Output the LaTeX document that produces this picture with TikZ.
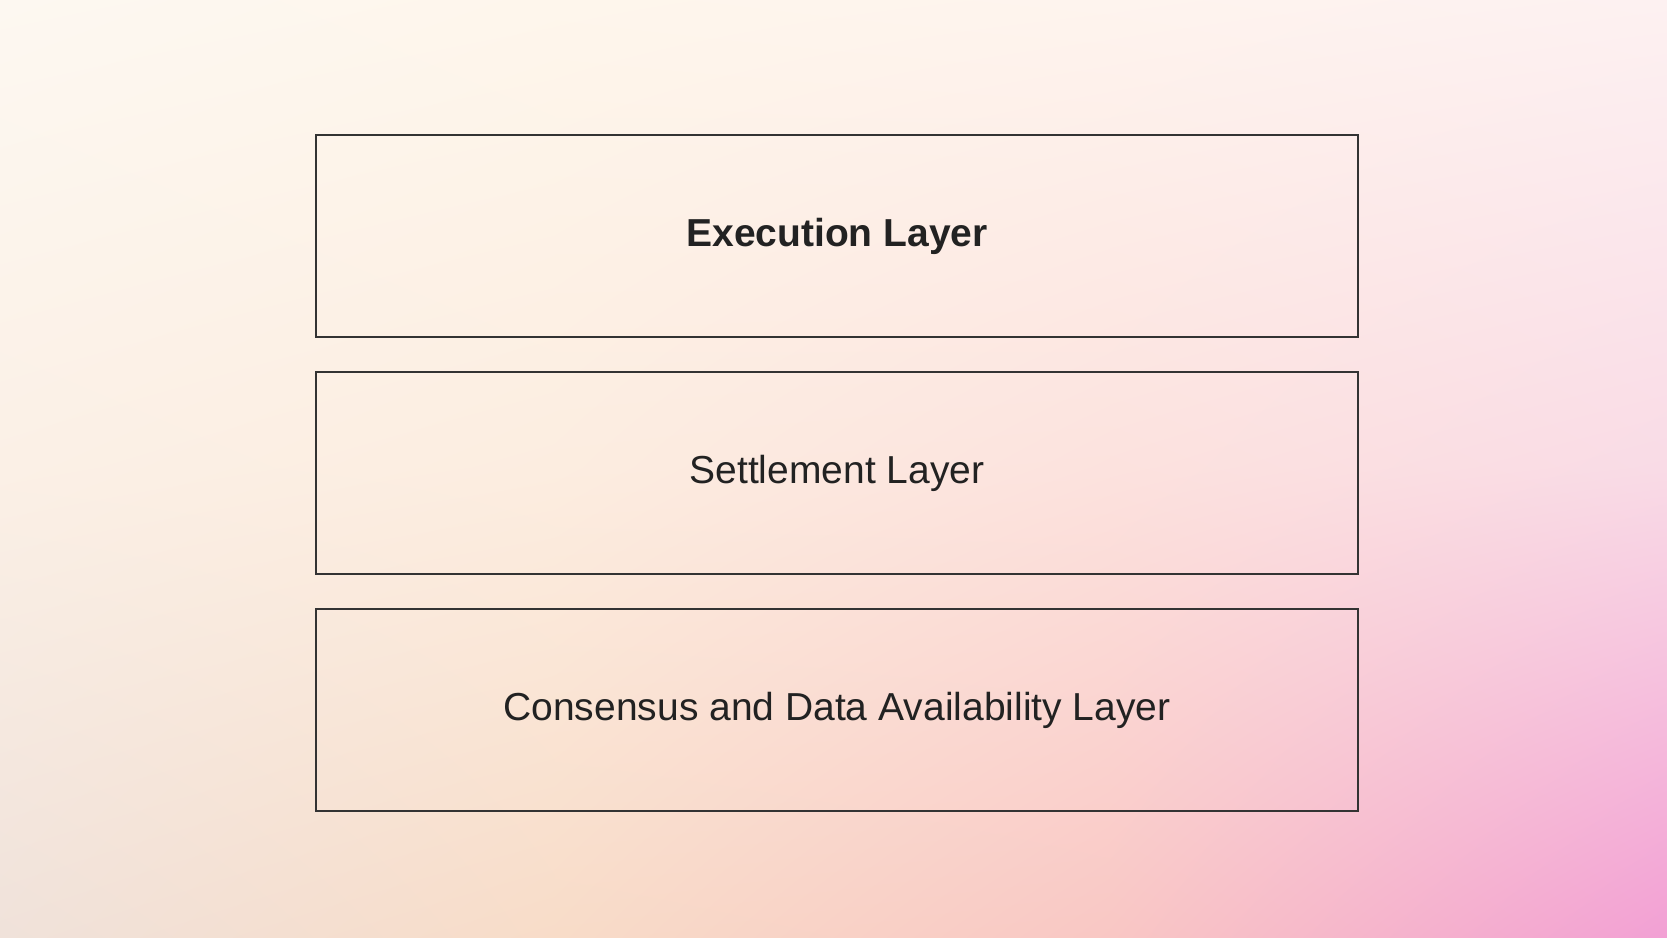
\documentclass[tikz,border=0pt]{standalone}
\usepackage{fontspec}
\setmainfont{Liberation Sans}
\usetikzlibrary{positioning, shadings}

\definecolor{tZero}{HTML}{FDF8F1}
\definecolor{tOne}{HTML}{FEF6EC}
\definecolor{tTwo}{HTML}{FEF4EE}
\definecolor{tThree}{HTML}{FDF1F1}
\definecolor{mZero}{HTML}{FBF0E6}
\definecolor{mOne}{HTML}{FCEDE0}
\definecolor{mTwo}{HTML}{FCE2DE}
\definecolor{mThree}{HTML}{F9DBE6}
\definecolor{bZero}{HTML}{F0E2DA}
\definecolor{bOne}{HTML}{F8DCC8}
\definecolor{bTwo}{HTML}{F9C7C4}
\definecolor{bThree}{HTML}{F2A0D4}
\definecolor{edgegray}{HTML}{333333}
\definecolor{inkgray}{HTML}{222222}

\tikzset{
  layer/.style={draw=edgegray, line width=0.4pt, minimum width=10.42cm, minimum height=2.02cm,
    inner sep=0pt, outer sep=0pt, text=inkgray, font=\fontsize{11.1}{13}\selectfont}
}

\begin{document}
\begin{tikzpicture}[node distance=0.35cm]
    \useasboundingbox (0,0) rectangle (16.67,9.37);

    % background
    \shade[upper left=tZero, upper right=tOne, lower left=mZero, lower right=mOne] (0,4.68) rectangle (5.57,9.37);
    \shade[upper left=tOne, upper right=tTwo, lower left=mOne, lower right=mTwo] (5.55,4.68) rectangle (11.12,9.37);
    \shade[upper left=tTwo, upper right=tThree, lower left=mTwo, lower right=mThree] (11.10,4.68) rectangle (16.67,9.37);
    \shade[upper left=mZero, upper right=mOne, lower left=bZero, lower right=bOne] (0,0) rectangle (5.57,4.69);
    \shade[upper left=mOne, upper right=mTwo, lower left=bOne, lower right=bTwo] (5.55,0) rectangle (11.12,4.69);
    \shade[upper left=mTwo, upper right=mThree, lower left=bTwo, lower right=bThree] (11.10,0) rectangle (16.67,4.69);

    \node[layer] (Execution) at (8.37,7.01) {\bfseries Execution Layer};
    \node[layer] (Settlement) [below=of Execution] {Settlement Layer};
    \node[layer] (Consensus) [below=of Settlement] {Consensus and Data Availability Layer};
\end{tikzpicture}
\end{document}
